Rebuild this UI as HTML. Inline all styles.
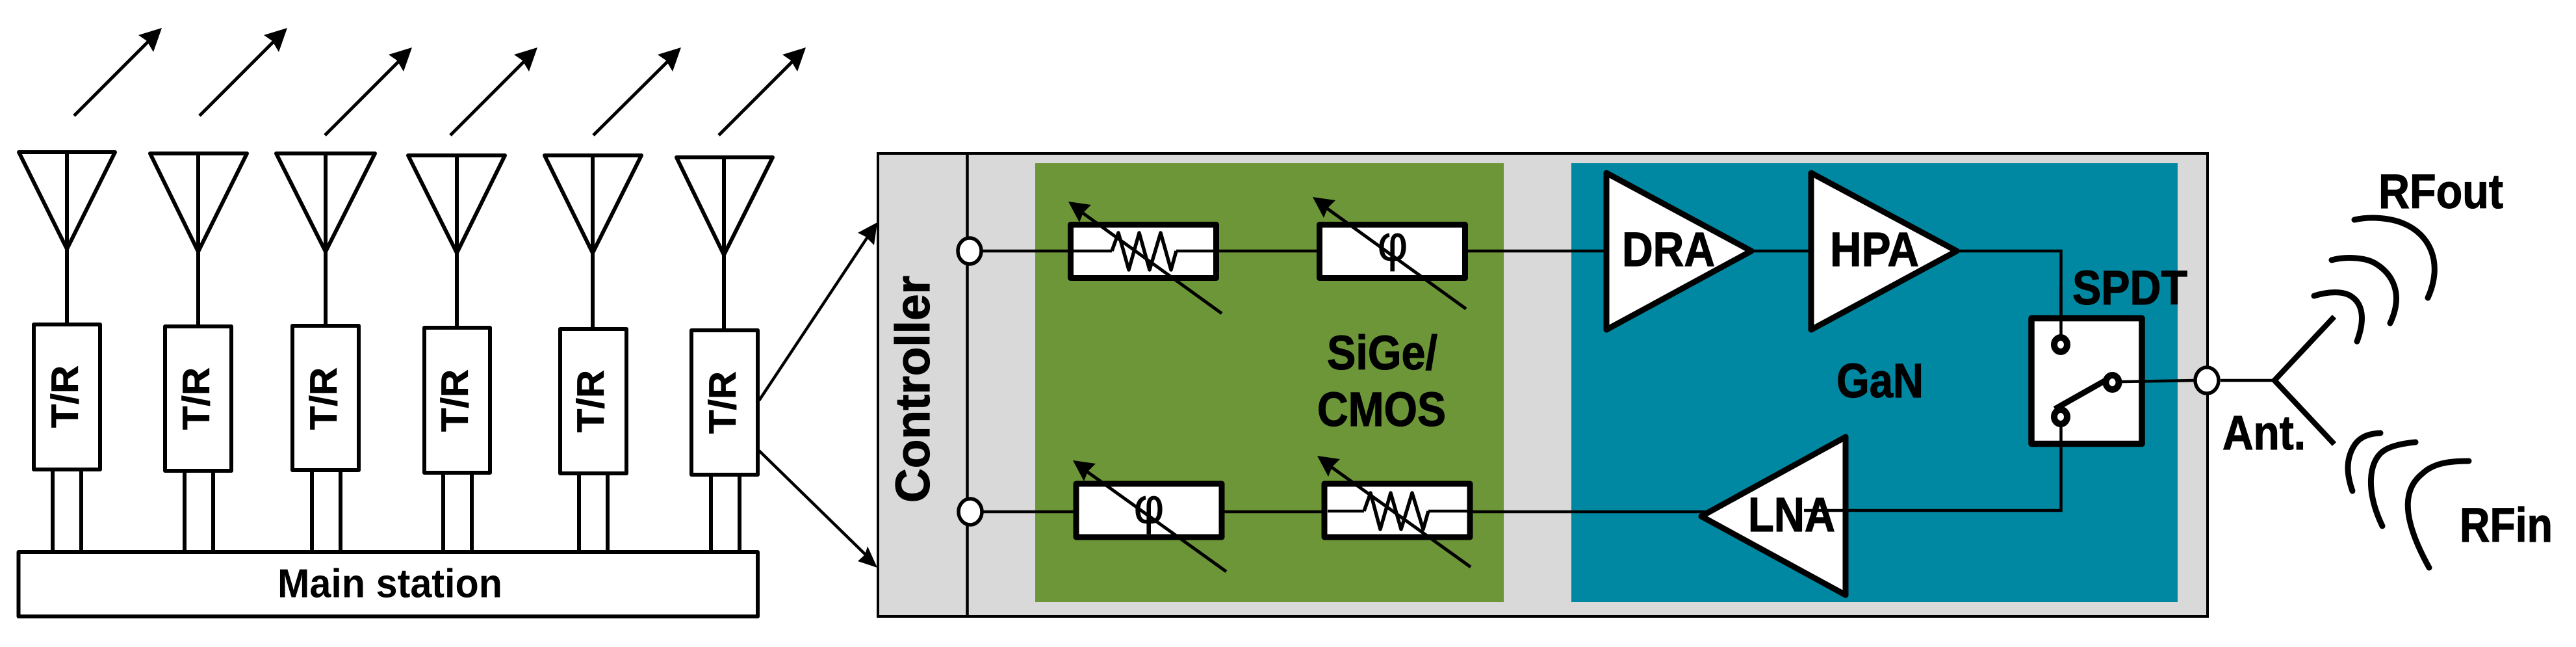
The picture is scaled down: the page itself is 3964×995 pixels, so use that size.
<!DOCTYPE html>
<html>
<head>
<meta charset="utf-8">
<style>
html,body{margin:0;padding:0;background:#fff;width:3964px;height:995px;overflow:hidden}
svg{display:block}
text{font-family:"Liberation Sans",Arial,sans-serif;fill:#000}
.b{font-weight:bold;font-size:74px;stroke:#000;stroke-width:1.2px}
.tr{font-weight:bold;font-size:58px;stroke:#000;stroke-width:.8px}
.phi{font-size:72px;stroke:#000;stroke-width:.6px}
</style>
</head>
<body>
<svg width="3964" height="995" viewBox="0 0 3964 995" xmlns="http://www.w3.org/2000/svg">
<rect width="3964" height="995" fill="#fff"/>

<!-- beam arrows -->
<g stroke="#000" stroke-width="5" fill="none">
<path d="M114 178L230 62M307 178L423 62M500 208L615 93M693 208L808 93M913 208L1029 93M1106 208L1221 93"/>
</g>
<g fill="#000">
<polygon points="249,43 213,54 226,63 236,80"/>
<polygon points="442,43 406,54 419,63 429,80"/>
<polygon points="634,73 598,84 611,93 621,110"/>
<polygon points="827,73 791,84 804,93 814,110"/>
<polygon points="1048,73 1012,84 1025,93 1035,110"/>
<polygon points="1240,73 1204,84 1217,93 1227,110"/>
</g>

<!-- antennas -->
<g stroke="#000" stroke-width="6" fill="none" stroke-linejoin="round">
<path d="M29 234H177L103 383ZM103 234V499"/>
<path d="M231 236H380L305 387ZM305 236V502"/>
<path d="M425 236H577L501 387ZM501 236V501"/>
<path d="M628 239H777L703 389ZM703 239V504"/>
<path d="M838 239H987L912 389ZM912 239V506"/>
<path d="M1041 242H1189L1114 392ZM1114 242V508"/>
<!-- pair lines -->
<path d="M81 722V849M125 722V849M284 724V849M328 724V849M480 723V849M524 723V849M682 727V849M726 727V849M891 728V849M935 728V849M1094 730V849M1138 730V849"/>
<!-- T/R boxes -->
<rect x="52" y="499" width="102" height="223" fill="#fff"/>
<rect x="254" y="502" width="102" height="222" fill="#fff"/>
<rect x="450" y="501" width="102" height="222" fill="#fff"/>
<rect x="653" y="504" width="101" height="223" fill="#fff"/>
<rect x="862" y="506" width="102" height="222" fill="#fff"/>
<rect x="1064" y="508" width="102" height="222" fill="#fff"/>
<!-- main station -->
<rect x="28.500" y="849" width="1137.500" height="99" fill="#fff"/>
</g>
<text class="tr" transform="translate(120 658) rotate(-90)" textLength="96" lengthAdjust="spacingAndGlyphs">T/R</text>
<text class="tr" transform="translate(322 661) rotate(-90)" textLength="96" lengthAdjust="spacingAndGlyphs">T/R</text>
<text class="tr" transform="translate(518 661) rotate(-90)" textLength="96" lengthAdjust="spacingAndGlyphs">T/R</text>
<text class="tr" transform="translate(720 664) rotate(-90)" textLength="96" lengthAdjust="spacingAndGlyphs">T/R</text>
<text class="tr" transform="translate(929 665) rotate(-90)" textLength="96" lengthAdjust="spacingAndGlyphs">T/R</text>
<text class="tr" transform="translate(1132 667) rotate(-90)" textLength="96" lengthAdjust="spacingAndGlyphs">T/R</text>
<text x="427" y="918.500" font-size="62" font-weight="bold" textLength="346" lengthAdjust="spacingAndGlyphs">Main station</text>

<!-- panel -->
<rect x="1351" y="236" width="2046" height="712" fill="#d9d9d9" stroke="#000" stroke-width="4"/>
<rect x="1593" y="251" width="721" height="675" fill="#6d9638"/>
<rect x="2418" y="251" width="933" height="675" fill="#0088a2"/>
<line x1="1488.500" y1="236" x2="1488.500" y2="948" stroke="#000" stroke-width="4.500"/>

<!-- connector arrows T/R to panel -->
<g stroke="#000" stroke-width="4.500" fill="none">
<path d="M1168 616L1338 360M1168 693L1336 857"/>
</g>
<g fill="#000">
<polygon points="1350,342 1320,358 1332,364 1345,377"/>
<polygon points="1350,873 1335,840 1331,853 1320,863"/>
</g>

<!-- wires -->
<g stroke="#000" stroke-width="4.500" fill="none">
<path d="M1492 386H2471M2695 386H2787M3011 386H3171.500V530"/>
<path d="M1493 787H2625"/>
<path d="M3417 585H3497"/>
</g>

<!-- controller nodes -->
<g fill="#fff" stroke="#000" stroke-width="5.500">
<ellipse cx="1492" cy="386" rx="18" ry="20"/>
<ellipse cx="1493" cy="787" rx="18" ry="20"/>
</g>

<!-- attenuator / phase boxes -->
<g fill="#fff" stroke="#000" stroke-width="9" stroke-linejoin="round">
<rect x="1647.500" y="345.500" width="224" height="82"/>
<rect x="2030.500" y="345.500" width="224" height="82"/>
<rect x="1656" y="744" width="224" height="82"/>
<rect x="2038" y="744" width="224" height="82"/>
</g>
<g fill="none" stroke="#000" stroke-width="4.500" stroke-linejoin="round">
<path d="M1652 386H1711M1810 386H1867M2043 786H2099M2198 786H2258"/>
</g>
<g fill="none" stroke="#000" stroke-width="5.500" stroke-linejoin="round">
<path d="M1711 386L1721 358L1737 415L1753 358L1769 415L1786 358L1802 415L1810 386"/>
<path d="M2099 786L2109 758L2124 814L2140 758L2156 814L2173 758L2190 814L2198 786"/>
</g>
<text class="phi" transform="translate(2143 401) scale(1 1.08)" text-anchor="middle">φ</text>
<text class="phi" transform="translate(1768 805) scale(1 1.08)" text-anchor="middle">φ</text>

<!-- tuning arrows -->
<g stroke="#000" stroke-width="5" fill="none">
<path d="M1880 482L1664 326M2256 475L2040 319M1887 879L1671 724M2263 872L2047 717"/>
</g>
<g fill="#000">
<polygon points="1644,310 1679,315 1667,327 1661,342"/>
<polygon points="2020,303 2055,308 2043,320 2037,335"/>
<polygon points="1651,708 1686,713 1674,725 1668,740"/>
<polygon points="2027,701 2062,706 2050,718 2044,733"/>
</g>

<!-- amplifiers -->
<g fill="#fff" stroke="#000" stroke-width="9" stroke-linejoin="round">
<polygon points="2472,266 2472,507 2695,386"/>
<polygon points="2787,266 2787,507 3011,386"/>
<polygon points="2840,672 2840,915 2618,794"/>
</g>

<!-- SPDT -->
<rect x="3126" y="489.500" width="170" height="193" fill="#fff" stroke="#000" stroke-width="9.500" stroke-linejoin="round"/>
<g fill="none" stroke="#000" stroke-width="4.500">
<path d="M3171.500 440V530"/>
<path d="M2776 785H3171.500V646"/>
<path d="M3265 587L3377 585"/>
</g>
<line x1="3162" y1="629" x2="3240" y2="585" stroke="#000" stroke-width="9"/>
<g fill="#fff" stroke="#000" stroke-width="10">
<ellipse cx="3171" cy="530" rx="10" ry="11"/>
<ellipse cx="3171" cy="641" rx="10" ry="11"/>
<ellipse cx="3250.500" cy="588" rx="10" ry="11"/>
</g>
<ellipse cx="3396" cy="585" rx="18" ry="20" fill="#fff" stroke="#000" stroke-width="5.500"/>

<!-- antenna -->
<path d="M3592 487L3500 585L3592 683" fill="none" stroke="#000" stroke-width="8.500" stroke-linejoin="miter"/>

<!-- RF arcs -->
<g fill="none" stroke="#000" stroke-width="9" stroke-linecap="round">
<path d="M3561 455C3580 449 3606 446 3620 457C3635 468 3640 490 3627 525"/>
<path d="M3588 400C3610 394 3640 396 3655 405C3680 420 3700 450 3678 497"/>
<path d="M3623 338C3650 332 3680 336 3697 343C3740 360 3760 405 3736 458"/>
<path d="M3663 666C3640 667 3628 675 3621 688C3610 708 3611 730 3620 755"/>
<path d="M3717 680C3695 682 3678 686 3667 694C3645 710 3640 755 3666 809"/>
<path d="M3799 709C3770 709 3745 712 3728 728C3700 750 3692 790 3738 873"/>
</g>

<!-- labels -->
<text class="b" transform="translate(1430 773) rotate(-90)" textLength="349" lengthAdjust="spacingAndGlyphs">Controller</text>
<text class="b" x="2042" y="568" textLength="170" lengthAdjust="spacingAndGlyphs">SiGe/</text>
<text class="b" x="2027" y="655" textLength="198" lengthAdjust="spacingAndGlyphs">CMOS</text>
<text class="b" x="2496" y="409" textLength="143" lengthAdjust="spacingAndGlyphs">DRA</text>
<text class="b" x="2816" y="409" textLength="137" lengthAdjust="spacingAndGlyphs">HPA</text>
<text class="b" x="2690" y="817" textLength="134" lengthAdjust="spacingAndGlyphs">LNA</text>
<text class="b" x="2826" y="611" textLength="134" lengthAdjust="spacingAndGlyphs">GaN</text>
<text class="b" x="3189" y="468" textLength="177" lengthAdjust="spacingAndGlyphs">SPDT</text>
<text class="b" x="3420" y="691" textLength="128" lengthAdjust="spacingAndGlyphs">Ant.</text>
<text class="b" x="3660" y="320" textLength="192" lengthAdjust="spacingAndGlyphs">RFout</text>
<text class="b" x="3785" y="833" textLength="143" lengthAdjust="spacingAndGlyphs">RFin</text>
</svg>
</body>
</html>
